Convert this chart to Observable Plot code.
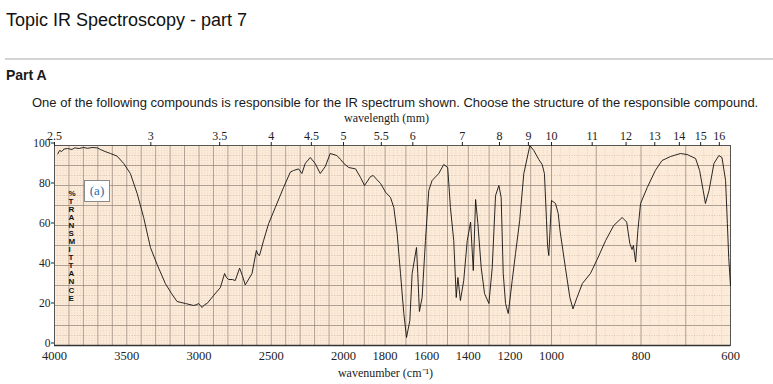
<!DOCTYPE html>
<html><head><meta charset="utf-8">
<script src="https://cdn.jsdelivr.net/npm/d3@7"></script>
<script src="https://cdn.jsdelivr.net/npm/@observablehq/plot@0.6"></script>
<style>
body{margin:0;background:#fff;width:773px;height:384px;overflow:hidden;position:relative;font-family:"Liberation Sans",Arial,sans-serif;color:#1a1a1a}
.abs{position:absolute;white-space:nowrap}
#title{left:6px;top:11px;font-size:18px;line-height:18px;color:#111}
#rule{left:5px;right:0;top:58px;height:2px;background:#d4d4d4}
#part{left:6px;top:68px;font-size:14px;line-height:14px;font-weight:bold}
#q{left:32px;top:96px;font-size:13px;line-height:13px}
#chart{left:0;top:110px}
#tag{left:84px;top:180px;width:24px;height:20px;border:1px solid #8a8a8a;background:#fff;font-family:"Liberation Serif",serif;color:#2b6ea6;font-size:13px;line-height:20px;text-align:center}
</style></head>
<body>
<div class="abs" id="title">Topic IR Spectroscopy - part 7</div>
<div class="abs" id="rule"></div>
<div class="abs" id="part">Part A</div>
<div class="abs" id="q">One of the following compounds is responsible for the IR spectrum shown. Choose the structure of the responsible compound.</div>
<div class="abs" id="chart"></div>
<div class="abs" id="tag">(a)</div>
<script>
const wavenumber = [3977,3965,3950,3935,3910,3880,3860,3830,3800,3770,3740,3703,3682,3650,3613,3567,3521,3475,3428,3383,3336,3290,3233,3190,3152,3094,3037,3015,3002,2990,2979,2960,2944,2899,2852,2823,2810,2795,2770,2749,2719,2700,2680,2633,2603,2592,2581,2553,2518,2472,2415,2368,2346,2311,2288,2265,2230,2196,2161,2126,2092,2046,2020,1998,1975,1942,1918,1899,1870,1857,1840,1822,1798,1774,1758,1742,1726,1710,1697,1681,1670,1649,1643,1635,1622,1606,1590,1574,1542,1518,1499,1486,1470,1458,1450,1438,1422,1405,1389,1376,1365,1354,1338,1322,1301,1285,1269,1253,1242,1232,1221,1208,1189,1173,1153,1133,1104,1085,1061,1045,1034,1024,1019,1013,1000,991,985,981,969,959,952,943,931,913,898,879,861,842,832,825,820,817,812,807,801,786,768,753,734,712,697,678,669,661,656,648,637,626,619,611,607,604,600];
const transmittance = [95.8,97.5,97,98.2,98.5,98,98.8,98.5,99,98.6,99,98.8,98,97,96,94.7,91,86,76,64,49,40.5,31,26,22,21,20,20.5,21,20,19,20.5,21,25,29,36,34,33,33,32.5,38.7,35,30.3,36,47.5,45.5,45,52.5,61,69,79,86.7,87.5,88.3,86,91,94,91,86,89.5,96,95,93,91,89,88.3,84,80,84.5,85,83,81,76.7,74,69,56,36,16,4,12.5,36,49,36,17,24,52.5,77.5,82.5,86,90.5,89,69,52.5,24,34,22.5,32.5,52.5,61.7,37.5,73,61,39,26,21,39,75,80,74,36,21,16,32.5,46,62.5,86,100,97.5,93,90.5,86,62.5,50,45,72.5,71,66,57.5,39,24,18.3,24,31,36,43,52.5,60,64,61.7,51,48,50,41.7,57.5,71,79,87.5,92.5,94.5,96,95.5,93.5,87.5,77.5,71,77.5,91,95,94,82.5,61,44,30];
const wavelengthTicks = [2.5,3,3.5,4,4.5,5,5.5,6,7,8,9,10,11,12,13,14,15,16];
const wavenumberTicks = [4000,3500,3000,2500,2000,1800,1600,1400,1200,1000,800,600];
const transmittanceTicks = [0,20,40,60,80,100];

const data = wavenumber.map((w, i) => ({w, t: transmittance[i]}));
const majorX = d3.range(700, 4000, 100);
const minorX = d3.range(620, 4000, 20).filter(v => v % 100 !== 0);
const majorY = d3.range(10, 100, 10);
const minorY = d3.range(5, 100, 10);

const plot = Plot.plot({
  width: 773, height: 274,
  marginLeft: 54, marginRight: 43, marginTop: 35, marginBottom: 39,
  style: {fontFamily: '"Liberation Serif", "Times New Roman", serif', fontSize: "12px", color: "#222", background: "transparent"},
  x: {type: "linear", domain: [4000, 2000, 1000, 600], range: [54, 343, 551, 730]},
  y: {domain: [0, 100]},
  marks: [
    Plot.frame({fill: "#fdebd9", stroke: null}),
    Plot.ruleX(minorX, {stroke: "#d9c3ad", strokeWidth: 0.6, strokeDasharray: "1,1.5"}),
    Plot.ruleY(minorY, {stroke: "#d3bca6", strokeWidth: 0.7, strokeDasharray: "1,1.5"}),
    Plot.ruleX(majorX, {stroke: "#9b8c80", strokeWidth: 0.8}),
    Plot.ruleY(majorY, {stroke: "#9b8c80", strokeWidth: 0.8}),
    Plot.frame({stroke: "#555", strokeWidth: 1}),
    Plot.ruleY([0], {stroke: "#333", strokeWidth: 1.5}),
    Plot.line(data, {x: "w", y: "t", stroke: "#111", strokeWidth: 0.9}),
    Plot.axisX({anchor: "top", ticks: wavelengthTicks.map(l => 10000 / l), tickFormat: d => String(+(10000 / d).toFixed(2)), tickSize: 4, tickPadding: 2, label: null, fontSize: 12}),
    Plot.axisX({anchor: "bottom", ticks: wavenumberTicks, tickFormat: d => String(d), tickSize: 0, tickPadding: 6, label: null, fontSize: 12.5}),
    Plot.axisY({ticks: transmittanceTicks, tickSize: 3, tickPadding: 1, label: null, fontSize: 11.5, dy: -2.5}),
    Plot.text(["%TRANSMITTANCE".split("").join("\n")], {text: d => d, frameAnchor: "left", dx: 14, fontFamily: '"Liberation Sans", Arial, sans-serif', fontWeight: "bold", fontSize: 8, lineHeight: 1.01, fill: "#111"}),
    Plot.text(["wavelength (mm)"], {text: d => d, frameAnchor: "top", dy: -24, dx: -6, lineAnchor: "bottom", fontSize: 12}),
    Plot.text(["wavenumber (cm⁻¹)"], {text: d => d, frameAnchor: "bottom", dy: 31, dx: -7, lineAnchor: "bottom", fontSize: 12})
  ]
});
document.getElementById("chart").appendChild(plot);
</script>
</body></html>
